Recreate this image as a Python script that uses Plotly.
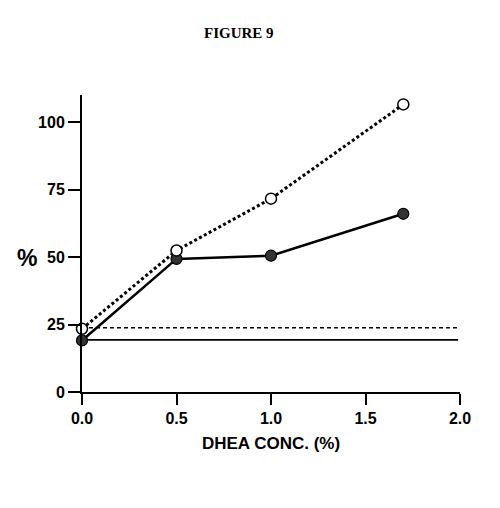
import plotly.graph_objects as go

conc = [0.0, 0.5, 1.0, 1.7]
open_vals = [23.4, 52.4, 71.6, 106.5]
filled_vals = [19.1, 49.3, 50.5, 66.0]
ref_x = [0.0, 1.99]
ref_dashed = [23.8, 23.8]
ref_solid = [19.3, 19.3]
x_ticks = [0.0, 0.5, 1.0, 1.5, 2.0]
x_ticklabels = ["0.0", "0.5", "1.0", "1.5", "2.0"]
y_ticks = [0, 25, 50, 75, 100]
y_ticklabels = ["0", "25", "50", "75", "100"]

fig = go.Figure()
fig.add_trace(go.Scatter(x=ref_x, y=ref_dashed, mode="lines",
                         line=dict(color="black", width=1.5, dash="4px,3px"),
                         showlegend=False, cliponaxis=False))
fig.add_trace(go.Scatter(x=ref_x, y=ref_solid, mode="lines",
                         line=dict(color="black", width=1.8),
                         showlegend=False, cliponaxis=False))
fig.add_trace(go.Scatter(x=conc, y=filled_vals, mode="lines+markers",
                         line=dict(color="black", width=2.5),
                         marker=dict(size=11, color="#333333", line=dict(color="black", width=1.2)),
                         showlegend=False, cliponaxis=False))
fig.add_trace(go.Scatter(x=conc, y=open_vals, mode="lines+markers",
                         line=dict(color="black", width=3, dash="3px,2.5px"),
                         marker=dict(size=11, color="white", line=dict(color="black", width=1.5)),
                         showlegend=False, cliponaxis=False))

axis_font = dict(family="Liberation Sans, Arial", size=16, color="black")
fig.update_layout(
    width=500, height=508,
    margin=dict(l=82, r=40, t=95, b=116),
    plot_bgcolor="white", paper_bgcolor="white",
    xaxis=dict(range=[0, 2], tickvals=x_ticks, ticktext=[f"<b>{t}</b>" for t in x_ticklabels],
               showline=True, linecolor="black", linewidth=2, ticks="outside", ticklen=11,
               tickwidth=2, tickcolor="black", showgrid=False, zeroline=False,
               tickfont=axis_font,
               title=dict(text="<b>DHEA CONC. (%)</b>", font=dict(family="Liberation Sans, Arial", size=17, color="black"), standoff=11)),
    yaxis=dict(range=[0, 110], tickvals=y_ticks, ticktext=[f"<b>{t}</b>" for t in y_ticklabels],
               showline=True, linecolor="black", linewidth=2, ticks="outside", ticklen=12,
               tickwidth=2, tickcolor="black", showgrid=False, zeroline=False,
               tickfont=axis_font),
    annotations=[
        dict(text="<b>%</b>", x=27, y=258, showarrow=False,
             font=dict(family="Liberation Sans, Arial", size=23, color="black")),
        dict(text="<b>FIGURE 9</b>", x=239, y=33, showarrow=False,
             font=dict(family="Liberation Serif, Times New Roman", size=15, color="black")),
    ],
)
# convert pixel annotation positions to paper coordinates
pw, ph = 500 - 82 - 40, 508 - 95 - 116
for a in fig.layout.annotations:
    px, py = a.x, a.y
    a.xref = "paper"; a.yref = "paper"
    a.x = (px - 82) / pw
    a.y = (508 - 116 - py) / ph
    a.xanchor = "center"; a.yanchor = "middle"

fig.write_html("out.html")
